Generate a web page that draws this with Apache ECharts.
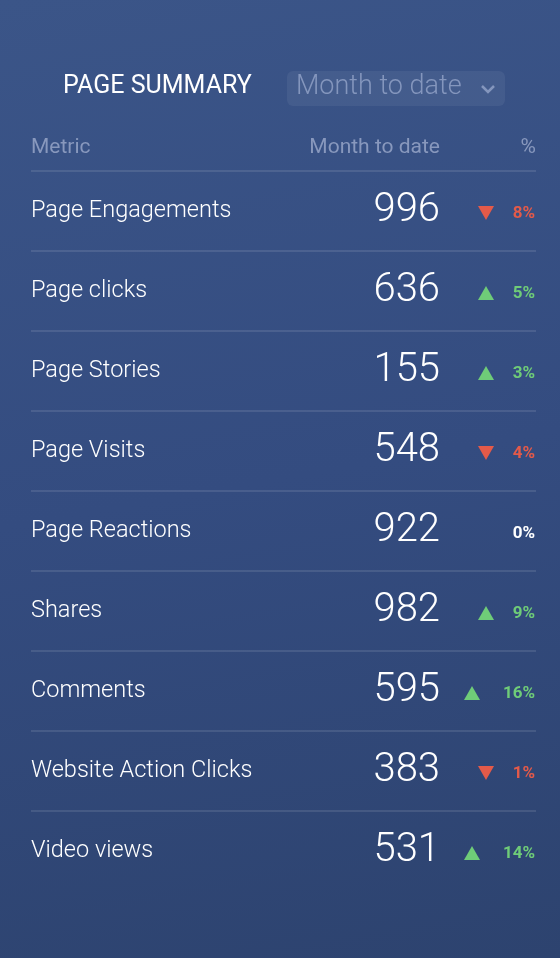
<!DOCTYPE html>
<html><head><meta charset="utf-8">
<script src="https://cdn.jsdelivr.net/npm/echarts@6/dist/echarts.min.js"></script>
<style>html,body{margin:0;padding:0;}#c{width:560px;height:958px;background:linear-gradient(170deg,#3b5588 0%,#344c80 50%,#2d436f 100%);}</style>
</head><body><div id="c"></div>
<script>
const metrics=["Page Engagements","Page clicks","Page Stories","Page Visits","Page Reactions","Shares","Comments","Website Action Clicks","Video views"];
const values=[996,636,155,548,922,982,595,383,531];
const changes=[-8,5,3,-4,0,9,16,-1,14];
const chart=echarts.init(document.getElementById('c'));
const F='Roboto';
chart.setOption({
 animation:false,
 grid:{left:0,right:0,top:170,bottom:68},
 xAxis:{type:'value',min:0,max:1,show:false},
 yAxis:{type:'category',data:metrics,inverse:true,show:false},
 graphic:[
  {type:'text',left:63,top:74,style:{text:'PAGE SUMMARY',fill:'#fff',font:'400 25px '+F,letterSpacing:1}},
  {type:'rect',shape:{x:287,y:71,width:218,height:35,r:6},style:{fill:'rgba(255,255,255,0.06)'}},
  {type:'text',left:296,top:74,style:{text:'Month to date',fill:'#8496bd',font:'300 27px '+F,letterSpacing:0.5}},
  {type:'polyline',shape:{points:[[482,86],[488,92],[494,86]]},style:{stroke:'#8496bd',lineWidth:2.5,fill:null}},
  {type:'text',left:31,top:137,style:{text:'Metric',fill:'#8898bd',font:'400 21px '+F}},
  {type:'text',right:120,top:137,style:{text:'Month to date',fill:'#8898bd',font:'400 21px '+F,letterSpacing:0.3}},
  {type:'text',right:24,top:137,style:{text:'%',fill:'#8898bd',font:'400 21px '+F}}
 ],
 series:[{type:'custom',coordinateSystem:'cartesian2d',data:metrics.map((m,i)=>[0,i]),
  renderItem:function(params,api){
   const i=params.dataIndex;
   const y=api.coord([0,i])[1];
   const c=changes[i];
   const col=c>0?'#6fcc78':(c<0?'#e45a49':'#ffffff');
   const ch=[
    {type:'line',shape:{x1:31,y1:y-39,x2:536,y2:y-39},style:{stroke:'rgba(255,255,255,0.14)',lineWidth:1.5}},
    {type:'text',x:31,y:y+1,style:{text:metrics[i],fill:'#fff',font:'300 23.5px '+F,textVerticalAlign:'middle',letterSpacing:0.3}},
    {type:'text',x:440,y:y+1,style:{text:String(values[i]),fill:'#fff',font:'300 40px '+F,textAlign:'right',textVerticalAlign:'middle'}},
    {type:'text',x:535,y:y+4,style:{text:Math.abs(c)+'%',fill:col,font:'700 17px '+F,textAlign:'right',textVerticalAlign:'middle',letterSpacing:2.5}}
   ];
   const ax=c>=10||c<=-10?472:486;
   if(c>0) ch.push({type:'polygon',shape:{points:[[ax-8,y+10],[ax+8,y+10],[ax,y-4]]},style:{fill:col}});
   if(c<0) ch.push({type:'polygon',shape:{points:[[ax-8,y-4],[ax+8,y-4],[ax,y+10]]},style:{fill:col}});
   return {type:'group',children:ch};
  }}]
});
</script></body></html>
